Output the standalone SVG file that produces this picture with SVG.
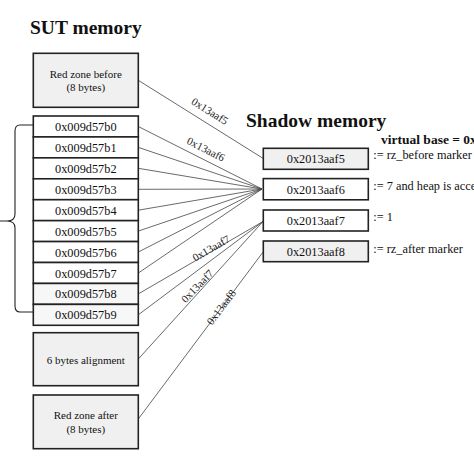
<svg xmlns="http://www.w3.org/2000/svg" width="474" height="474" viewBox="0 0 474 474">
<style>
.box{stroke:#222;stroke-width:1.6}
.gray{fill:#f0f0f0}
.light{fill:#f7f7f7}
.white{fill:#fff}
.t{font-family:"Liberation Serif","Times New Roman",serif;fill:#111;text-anchor:middle}
.a{font-size:12.3px}
.r{font-size:11px}
.title{font-family:"Liberation Serif","Times New Roman",serif;font-weight:bold;font-size:19.5px;fill:#111}
.ann{font-family:"Liberation Serif","Times New Roman",serif;font-size:12.3px;fill:#111}
.lbl{font-family:"Liberation Serif","Times New Roman",serif;font-size:11px;fill:#222;text-anchor:middle}
.ln{stroke:#444;stroke-width:0.8;fill:none}
</style>
<rect width="474" height="474" fill="#fff"/>
<text class="title" x="30" y="33.5">SUT memory</text>
<text class="title" x="246" y="126.5">Shadow memory</text>
<text class="title" x="381" y="144" style="font-size:13.5px">virtual base = 0x</text>

<g id="connectors">
<line class="ln" x1="138.3" y1="80.3" x2="263.3" y2="158.5"/>
<line class="ln" x1="138.3" y1="126.5" x2="262" y2="189"/>
<line class="ln" x1="138.3" y1="147.4" x2="262" y2="189"/>
<line class="ln" x1="138.3" y1="168.3" x2="262" y2="189"/>
<line class="ln" x1="138.3" y1="189.3" x2="262" y2="189"/>
<line class="ln" x1="138.3" y1="210.2" x2="262" y2="189"/>
<line class="ln" x1="138.3" y1="231.1" x2="262" y2="189"/>
<line class="ln" x1="138.3" y1="252" x2="262" y2="189"/>
<line class="ln" x1="138.3" y1="273" x2="262" y2="189"/>
<line class="ln" x1="138.3" y1="293.9" x2="263" y2="221.5"/>
<line class="ln" x1="138.3" y1="314.8" x2="263" y2="221.5"/>
<line class="ln" x1="138.3" y1="359" x2="263" y2="221.5"/>
<line class="ln" x1="138.3" y1="419" x2="263.3" y2="251.7"/>
<path class="ln" style="stroke:#222;stroke-width:1.1" d="M33,125 H20 Q15,125 15,131 V214 Q15,221 7,221 H0 M7,221 Q15,221 15,228 V306 Q15,312 20,312 H33"/>
<text class="lbl" transform="translate(210,111) rotate(32)" x="0" y="4">0x13aaf5</text>
<text class="lbl" transform="translate(206,149) rotate(27)" x="0" y="4">0x13aaf6</text>
<text class="lbl" transform="translate(211,248) rotate(-30)" x="0" y="4">0x13aaf7</text>
<text class="lbl" transform="translate(197,286) rotate(-46)" x="0" y="4">0x13aaf7</text>
<text class="lbl" transform="translate(221,307) rotate(-53)" x="0" y="4">0x13aaf8</text>
</g>

<g id="rz-before">
<rect class="box gray" x="33.3" y="53.3" width="105" height="54"/>
<text class="t r" x="85.8" y="77.5">Red zone before</text>
<text class="t r" x="85.8" y="91">(8 bytes)</text>
</g>
<g id="b0"><rect class="box white" x="33.3" y="116" width="105" height="20.93"/><text class="t a" x="85.8" y="131">0x009d57b0</text></g>
<g id="b1"><rect class="box white" x="33.3" y="136.93" width="105" height="20.93"/><text class="t a" x="85.8" y="151.9">0x009d57b1</text></g>
<g id="b2"><rect class="box white" x="33.3" y="157.86" width="105" height="20.93"/><text class="t a" x="85.8" y="172.8">0x009d57b2</text></g>
<g id="b3"><rect class="box white" x="33.3" y="178.79" width="105" height="20.93"/><text class="t a" x="85.8" y="193.8">0x009d57b3</text></g>
<g id="b4"><rect class="box white" x="33.3" y="199.72" width="105" height="20.93"/><text class="t a" x="85.8" y="214.7">0x009d57b4</text></g>
<g id="b5"><rect class="box white" x="33.3" y="220.65" width="105" height="20.93"/><text class="t a" x="85.8" y="235.6">0x009d57b5</text></g>
<g id="b6"><rect class="box white" x="33.3" y="241.58" width="105" height="20.93"/><text class="t a" x="85.8" y="256.5">0x009d57b6</text></g>
<g id="b7"><rect class="box white" x="33.3" y="262.51" width="105" height="20.93"/><text class="t a" x="85.8" y="277.5">0x009d57b7</text></g>
<g id="b8"><rect class="box light" x="33.3" y="283.44" width="105" height="20.93"/><text class="t a" x="85.8" y="298.4">0x009d57b8</text></g>
<g id="b9"><rect class="box light" x="33.3" y="304.37" width="105" height="20.93"/><text class="t a" x="85.8" y="319.3">0x009d57b9</text></g>
<g id="align">
<rect class="box gray" x="33.3" y="332.7" width="105" height="53"/>
<text class="t r" x="85.8" y="363.5">6 bytes alignment</text>
</g>
<g id="rz-after">
<rect class="box gray" x="33.3" y="395" width="105" height="53.7"/>
<text class="t r" x="85.8" y="419">Red zone after</text>
<text class="t r" x="85.8" y="432.7">(8 bytes)</text>
</g>

<g id="s5"><rect class="box gray" x="263.3" y="148.3" width="105" height="21"/><text class="t a" x="315.8" y="163.3">0x2013aaf5</text></g>
<g id="s6"><rect class="box white" x="263.3" y="178.6" width="105" height="21.2"/><text class="t a" x="315.8" y="193.7">0x2013aaf6</text></g>
<g id="s7"><rect class="box white" x="263.3" y="210" width="105" height="21"/><text class="t a" x="315.8" y="225">0x2013aaf7</text></g>
<g id="s8"><rect class="box gray" x="263.3" y="241" width="105" height="20.7"/><text class="t a" x="315.8" y="255.8">0x2013aaf8</text></g>

<g id="annotations">
<text class="ann" x="373.3" y="158.5">:= rz_before marker</text>
<text class="ann" x="373.3" y="190">:= 7 and heap is acce</text>
<text class="ann" x="373.3" y="221">:= 1</text>
<text class="ann" x="373.3" y="253">:= rz_after marker</text>
</g>
</svg>
